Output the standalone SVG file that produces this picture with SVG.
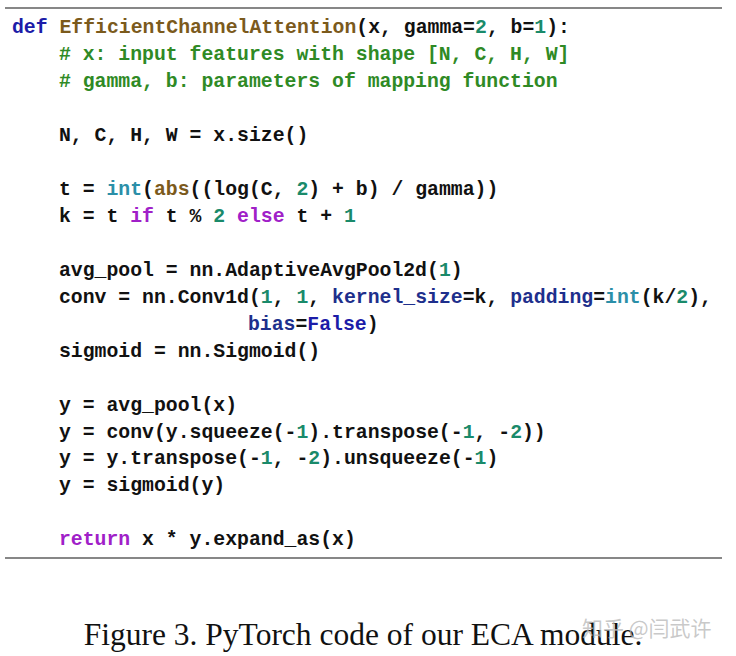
<svg xmlns="http://www.w3.org/2000/svg" width="736" height="656" viewBox="0 0 736 656">
<style>
.c{font-family:"Liberation Mono","Courier New",monospace;font-weight:bold;font-size:19.8px;fill:#111}
.k{fill:#1c1ca8}.f{fill:#7b5a1c}.g{fill:#2f8a25}.n{fill:#1a8a6a}.p{fill:#a020c8}.a{fill:#1e2f8c}.t{fill:#2b8fa8}
</style>
<rect width="736" height="656" fill="#fff"/>
<line x1="5" y1="8" x2="722" y2="8" stroke="#111" stroke-width="1.2"/>
<line x1="5" y1="558" x2="722" y2="558" stroke="#111" stroke-width="1.2"/>
<g id="code" class="c">
<text x="12" y="33"><tspan class="k">def</tspan> <tspan class="f">EfficientChannelAttention</tspan>(x, gamma=<tspan class="n">2</tspan>, b=<tspan class="n">1</tspan>):</text>
<text x="59" y="60" class="g"># x: input features with shape [N, C, H, W]</text>
<text x="59" y="87" class="g"># gamma, b: parameters of mapping function</text>
<text x="59" y="141">N, C, H, W = x.size()</text>
<text x="59" y="195">t = <tspan class="t">int</tspan>(<tspan class="f">abs</tspan>((log(C, <tspan class="n">2</tspan>) + b) / gamma))</text>
<text x="59" y="222">k = t <tspan class="p">if</tspan> t % <tspan class="n">2</tspan> <tspan class="p">else</tspan> t + <tspan class="n">1</tspan></text>
<text x="59" y="276">avg_pool = nn.AdaptiveAvgPool2d(<tspan class="n">1</tspan>)</text>
<text x="59" y="303">conv = nn.Conv1d(<tspan class="n">1</tspan>, <tspan class="n">1</tspan>, <tspan class="a">kernel_size</tspan>=k, <tspan class="a">padding</tspan>=<tspan class="t">int</tspan>(k/<tspan class="n">2</tspan>),</text>
<text x="248" y="330"><tspan class="a">bias</tspan>=<tspan class="k">False</tspan>)</text>
<text x="59" y="357">sigmoid = nn.Sigmoid()</text>
<text x="59" y="411">y = avg_pool(x)</text>
<text x="59" y="438">y = conv(y.squeeze(-<tspan class="n">1</tspan>).transpose(-<tspan class="n">1</tspan>, -<tspan class="n">2</tspan>))</text>
<text x="59" y="464">y = y.transpose(-<tspan class="n">1</tspan>, -<tspan class="n">2</tspan>).unsqueeze(-<tspan class="n">1</tspan>)</text>
<text x="59" y="491">y = sigmoid(y)</text>
<text x="59" y="545"><tspan class="p">return</tspan> x * y.expand_as(x)</text>
</g>
<text x="363" y="645" text-anchor="middle" font-family="Liberation Serif,serif" font-size="31.5" fill="#111">Figure 3. PyTorch code of our ECA module.</text>
<text x="582" y="636" font-family="Noto Sans CJK SC,sans-serif" font-size="21" fill="#bbb" fill-opacity="0.8">知乎 @闫武许</text>
</svg>
